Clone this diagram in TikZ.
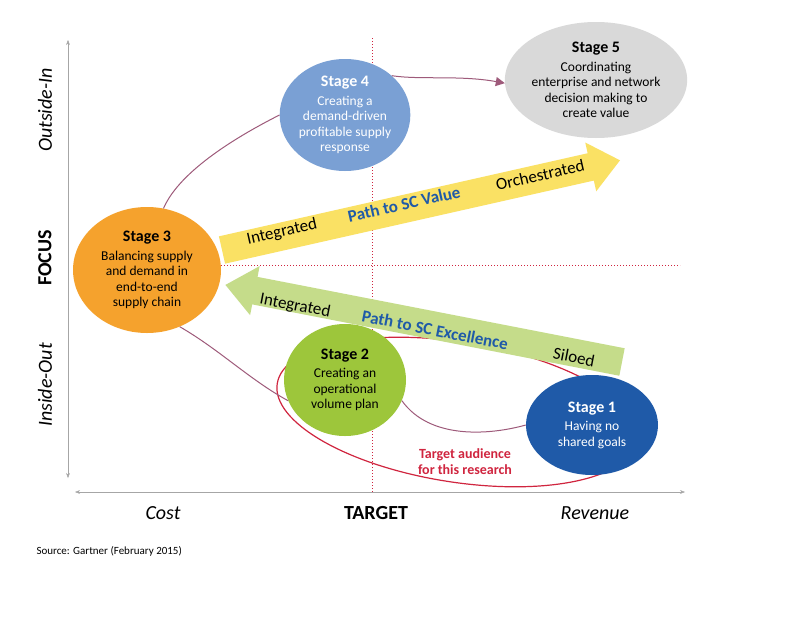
\documentclass[tikz,border=0pt]{standalone}
\usepackage{fontspec}
\setmainfont{Carlito}
\usetikzlibrary{shapes.geometric,arrows.meta}
\definecolor{purp}{HTML}{9E5A7A}
\definecolor{ax}{HTML}{A6A6A6}
\definecolor{redd}{HTML}{D0253F}
\definecolor{txtblue}{HTML}{1F5AA8}
\definecolor{c3}{HTML}{F5A22D}
\definecolor{c4}{HTML}{7AA0D4}
\definecolor{c5}{HTML}{D9D9D9}
\definecolor{c2}{HTML}{9DC63B}
\definecolor{c1}{HTML}{1F5AA8}
\definecolor{ya}{HTML}{FAE164}
\definecolor{ga}{HTML}{C5DC8A}
\begin{document}
\begin{tikzpicture}[x=1pt,y=-1pt,
 stage/.style={ellipse,draw=none,align=center,inner sep=0pt,font=\fontsize{13.5}{15.5}\selectfont},
 conn/.style={draw=purp,line width=1pt},
 lab/.style={font=\fontsize{17}{19}\selectfont},
 pl/.style={font=\fontsize{17}{19}\selectfont\bfseries,text=txtblue}]
\useasboundingbox (0,0) rectangle (800,640);
\fill[white] (0,0) rectangle (800,640);
% axes
\coordinate (vt) at (68,40); \coordinate (vb) at (68,478);
\coordinate (hl) at (75,492); \coordinate (hr) at (685,492);
\draw[ax,{Stealth[length=5pt]}-{Stealth[length=5pt]}] (vt)--(vb);
\draw[ax,{Stealth[length=5pt]}-{Stealth[length=5pt]}] (hl)--(hr);
\coordinate (dt) at (372,38); \coordinate (db) at (372,492);
\coordinate (dl) at (215,265); \coordinate (dr) at (680,265);
\draw[redd,dotted,line width=1pt] (dt)--(db);
\draw[redd,dotted,line width=1pt] (dl)--(dr);
\node[rotate=90,font=\fontsize{20}{22}\selectfont\itshape] (oi) at (45,110) {Outside-In};
\node[rotate=90,font=\fontsize{20}{22}\selectfont\bfseries] (fo) at (45,258) {FOCUS};
\node[rotate=90,font=\fontsize{20}{22}\selectfont\itshape] (io) at (45,385) {Inside-Out};
\node[font=\fontsize{20}{22}\selectfont\itshape] (co) at (163,513) {Cost};
\node[font=\fontsize{20}{22}\selectfont\bfseries] (ta) at (376,513) {TARGET};
\node[font=\fontsize{20}{22}\selectfont\itshape] (re) at (595,513) {Revenue};
\node[anchor=west,font=\fontsize{11}{13}\selectfont] (src) at (33,551) {Source: Gartner (February 2015)};
% target ellipse
\draw[redd,line width=1.2pt,rotate around={-9:(457,412)}] (457,412) ellipse (182pt and 70pt);
% stages
\node[stage,fill=c3,minimum width=148pt,minimum height=126pt] (s3) at (147,270)
 {{\fontsize{16}{18}\selectfont\bfseries Stage 3}\\[3pt]Balancing supply\\and demand in\\end-to-end\\supply chain};
\node[stage,fill=c4,text=white,minimum width=126pt,minimum height=112pt] (s4) at (345,115)
 {{\fontsize{16}{18}\selectfont\bfseries Stage 4}\\[3pt]Creating a\\demand-driven\\profitable supply\\response};
\node[stage,fill=c5,minimum width=166pt,minimum height=116pt] (s5) at (596,80)
 {{\fontsize{16}{18}\selectfont\bfseries Stage 5}\\[3pt]Coordinating\\enterprise and network\\decision making to\\create value};
\node[stage,fill=c2,minimum width=122pt,minimum height=112pt] (s2) at (345,380)
 {{\fontsize{16}{18}\selectfont\bfseries Stage 2}\\[3pt]Creating an\\operational\\volume plan};
\node[stage,fill=c1,text=white,minimum width=132pt,minimum height=100pt] (s1) at (592,425)
 {{\fontsize{16}{18}\selectfont\bfseries Stage 1}\\[3pt]Having no\\shared goals};
% connectors
\draw[conn] (s3.75) .. controls (180,170) and (240,135) .. (s4.180);
\draw[conn,-{Triangle[length=9pt,width=9pt]}] (s4.40) .. controls (420,80) and (460,75) .. (s5.182);
\draw[conn] (s3.-60) .. controls (220,350) and (250,380) .. (s2.200);
\draw[conn] (s2.-20) .. controls (430,440) and (490,435) .. (s1.180);
% big arrows
\begin{scope}[shift={(222,250)},rotate=12.7]
\fill[ya] (0,-14)--(378,-14)--(378,-25)--(408,0)--(378,25)--(378,14)--(0,14)--cycle;
\end{scope}
\begin{scope}[shift={(622,362)},rotate=169]
\fill[ga] (0,-14)--(374,-14)--(374,-25)--(404,0)--(374,25)--(374,14)--(0,14)--cycle;
\end{scope}
\node[lab,rotate=12.7] (y1) at (282,232) {Integrated};
\node[pl,rotate=12.7] (y2) at (404,204) {Path to SC Value};
\node[lab,rotate=12.7] (y3) at (540,175) {Orchestrated};
\node[lab,rotate=-11] (g1) at (295,306) {Integrated};
\node[pl,rotate=-11] (g2) at (435,330) {Path to SC Excellence};
\node[lab,rotate=-11] (g3) at (574,357) {Siloed};
\node[align=center,text=redd,font=\fontsize{14}{16}\selectfont\bfseries] (tg) at (465,462) {Target audience\\for this research};
\end{tikzpicture}
\end{document}
